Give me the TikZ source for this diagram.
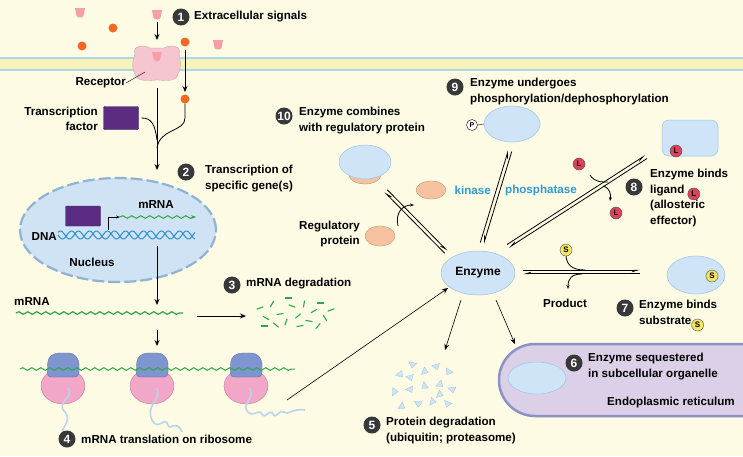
\documentclass[tikz,border=0pt]{standalone}
\usepackage{fontspec}
\setmainfont{Liberation Sans}
\usetikzlibrary{arrows.meta,decorations.pathmorphing,calc,shapes.geometric}
\definecolor{cream}{HTML}{FDFBE3}
\definecolor{memb}{HTML}{A9D8EE}
\definecolor{membY}{HTML}{F8F2B8}
\definecolor{enz}{HTML}{CFE4F7}
\definecolor{enzb}{HTML}{9CC3E3}
\definecolor{nucf}{HTML}{CFE3F4}
\definecolor{nucb}{HTML}{8FB3D3}
\definecolor{tf}{HTML}{5A2D82}
\definecolor{rna}{HTML}{2EA84A}
\definecolor{dna}{HTML}{2C8FD0}
\definecolor{salm}{HTML}{F6C2A0}
\definecolor{orng}{HTML}{EE6A22}
\definecolor{pinkr}{HTML}{F6C6D0}
\definecolor{ribo}{HTML}{F2A7C8}
\definecolor{ribot}{HTML}{7F95CF}
\definecolor{lig}{HTML}{E0405A}
\definecolor{subs}{HTML}{F6E560}
\definecolor{erf}{HTML}{DCD0E8}
\definecolor{erb}{HTML}{8E90C8}
\definecolor{kin}{HTML}{2F9AD6}
\tikzset{
 txt/.style={font=\bfseries\fontsize{11.6}{15.5}\selectfont,inner sep=0pt,align=left},
 num/.style={circle,fill=black!78,text=white,minimum size=17pt,inner sep=0pt,font=\bfseries\fontsize{12}{12}\selectfont},
 arr/.style={-{Stealth[length=6pt,width=5pt]},thick},
 enzyme/.style={ellipse,fill=enz,draw=enzb,line width=0.5pt},
 wavy/.style={decorate,decoration={snake,amplitude=1.3pt,segment length=9pt},rna,line width=1.2pt},
 hps/.style={-{Stealth[harpoon,swap,length=7pt,width=4pt]},thick},
 dot/.style={circle,fill=orng,minimum size=9pt,inner sep=0pt},
 cup/.style={fill=pinkr!80!red,draw=none},
 lg/.style={circle,fill=lig,draw=black!70,minimum size=12pt,inner sep=0pt,font=\bfseries\fontsize{8}{8}\selectfont},
 sb/.style={circle,fill=subs,draw=black!70,minimum size=12pt,inner sep=0pt,font=\bfseries\fontsize{8}{8}\selectfont},
}
\newcommand{\eqarr}[2]{%
 \draw[hps] ($(#1)!1.8pt!90:(#2)$) -- ($(#2)!1.8pt!-90:(#1)$);
 \draw[hps] ($(#2)!1.8pt!90:(#1)$) -- ($(#1)!1.8pt!-90:(#2)$);}
\begin{document}
\begin{tikzpicture}[x=1pt,y=-1pt]
\fill[cream] (0,0) rectangle (743,456);
\useasboundingbox (0,0) rectangle (743,456);
% membrane
\fill[membY] (0,58) rectangle (743,70);
\draw[memb,line width=1.5pt] (0,58) -- (743,58) (0,70) -- (743,70);
% signals
\foreach \x/\y [count=\i] in {80/12,157/14,218/44}{
 \fill[cup] (\x-5,\y-4) -- (\x+5,\y-4) -- (\x+3.5,\y+4) .. controls (\x+2,\y+6) and (\x-2,\y+6) .. (\x-3.5,\y+4) -- cycle;}
\node[dot] (o1) at (82,46) {};
\node[dot] (o2) at (113,28) {};
\node[dot] (o3) at (185,42) {};
\node[num] (n1) at (181,17) {1};
\node[txt,anchor=west] (t1) at (194,17) {Extracellular signals};
% receptor
\fill[pinkr,draw=pinkr!80!black,line width=0.3pt] (135,54) .. controls (132,46) and (143,44) .. (150,48) -- (164,48) .. controls (171,44) and (182,46) .. (179,54) .. controls (181,62) and (181,70) .. (178,74) .. controls (176,81) and (170,81) .. (157,80) .. controls (144,81) and (137,81) .. (135,74) .. controls (132,70) and (132,62) .. cycle;
\fill[cup] (152,52) -- (162,52) -- (160,60) .. controls (158,62) and (156,62) .. (154,60) -- cycle;
\coordinate (rc) at (145,72);
\node[txt,anchor=east] (trec) at (126,83) {Receptor};
\draw[thin] (trec.east) -- (rc);
\coordinate (s2) at (157,22);
\coordinate (s2e) at (157,40);
\draw[arr] (s2) -- (s2e);
\node[dot] (o4) at (185,99) {};
\draw[arr] (o3) ++(0,8) coordinate (o3b) -- (185,92);
% transcription factor
\node[txt,align=right,anchor=east] (ttf) at (98,119) {Transcription\\factor};
\node[fill=tf,draw=tf!70!black,rounded corners=1pt,minimum width=35pt,minimum height=23pt] (tfb) at (121,118) {};
\coordinate (rb) at (157,88);
\coordinate (nt) at (157,170);
\draw[arr] (rb) -- (nt);
\draw[thick] (tfb.east) ++(3,0) .. controls (152,118) and (155,125) .. (157,140);
\draw[thick] (o4.south) -- (185,118) .. controls (185,132) and (160,128) .. (157,148);
\node[num] (n2) at (186,172) {2};
\node[txt,anchor=north west] (t2) at (205,165) {Transcription of\\specific gene(s)};
% nucleus
\node[ellipse,fill=nucf,draw=nucb,dashed,dash pattern=on 12pt off 4pt,line width=2.2pt,minimum width=196pt,minimum height=104pt] (nuc) at (118,230) {};
\node[fill=tf,draw=tf!70!black,rounded corners=1pt,minimum width=35pt,minimum height=20pt] (tf2) at (83,216) {};
\draw[thick,-{Stealth[length=4pt]}] (108,230) -- (108,217) -- (120,217);
\draw[wavy,line width=1pt,-{Stealth[length=5pt]}] (120,217) -- (196,217);
\node[txt,anchor=center] (tm) at (156,205) {mRNA};
\draw[dna,line width=1pt,domain=0:137,samples=120] plot ({58+\x},{235+4*sin(\x*20)});
\draw[dna,line width=1pt,domain=0:137,samples=120] plot ({58+\x},{235-4*sin(\x*20+40)});
\node[txt,anchor=east] (tdna) at (57,237) {DNA};
\node[txt] (tnuc) at (92,262) {Nucleus};
% mRNA
\coordinate (nb) at (157,246);
\coordinate (m1) at (157,305);
\draw[arr] (nb) -- (m1);
\node[txt,anchor=west] (tm2) at (14,302) {mRNA};
\draw[wavy] (16,313) -- (183,313);
\coordinate (d1) at (197,316);
\coordinate (d2) at (246,316);
\draw[arr] (d1) -- (d2);
\foreach \x/\y/\a in {260/308/20,266/318/-30,272/304/60,280/314/10,286/322/70,292/306/-20,298/316/40,304/304/80,309/321/-10,314/311/30,320/303/0,325/318/-60,331/310/20,276/325/-40,300/326/10,318/326/50,264/326/0,288/298/0}
 \draw[rna,line width=1.1pt,rotate around={\a:(\x,\y)}] (\x-3.5,\y) -- (\x+3.5,\y);
\node[num] (n3) at (232,285) {3};
\node[txt,anchor=west] (t3) at (246,284) {mRNA degradation};
\coordinate (m2) at (157,330);
\coordinate (m3) at (157,346);
\draw[arr] (m2) -- (m3);
% ribosomes
\foreach \x/\tl in {63/1,152/2,246/3}{
 \fill[ribo,draw=ribo!70!black,line width=0.3pt] (\x,386) ellipse (22pt and 18pt);
 \fill[ribot,draw=ribot!70!black,line width=0.3pt,rounded corners=4pt] (\x-16,377) -- (\x-15,358) -- (\x-8,353) -- (\x+10,353) -- (\x+16,360) -- (\x+16,377) -- cycle;
}
\draw[wavy,line width=1pt] (20,369) -- (295,369);
\draw[enzb!70,line width=1.6pt] (68,388) .. controls (75,398) and (55,402) .. (65,412) .. controls (72,420) and (62,428) .. (62,433);
\draw[enzb!70,line width=1.6pt] (157,388) .. controls (162,400) and (145,405) .. (152,420) .. controls (158,432) and (165,415) .. (168,425) .. controls (170,432) and (176,418) .. (182,432);
\draw[enzb!70,line width=1.6pt] (250,388) .. controls (255,400) and (240,405) .. (248,412) .. controls (254,418) and (258,408) .. (262,414) .. controls (265,420) and (270,408) .. (273,414) .. controls (276,420) and (280,408) .. (284,412) .. controls (288,416) and (292,408) .. (305,410);
\node[num] (n4) at (67,439) {4};
\node[txt,anchor=west] (t4) at (81,439) {mRNA translation on ribosome};
% enzyme
\node[enzyme,minimum width=74pt,minimum height=44pt,font=\bfseries\fontsize{12}{14}\selectfont] (enz) at (478,273) {Enzyme};
\coordinate (rib) at (287,400);
\draw[arr,semithick] (rib) -- (448,288);
% 10
\node[num] (n10) at (284,116) {10};
\node[txt,anchor=north west] (t10) at (299,107) {Enzyme combines\\with regulatory protein};
\fill[salm,draw=salm!70!black,line width=0.3pt] (365,175) ellipse (16pt and 9pt);
\node[enzyme,minimum width=52pt,minimum height=34pt] (ec) at (365,162) {};
\node[ellipse,fill=salm,draw=salm!70!black,line width=0.3pt,minimum width=30pt,minimum height=18pt] (rp1) at (431,190) {};
\node[ellipse,fill=salm,draw=salm!70!black,line width=0.3pt,minimum width=30pt,minimum height=20pt] (rp2) at (380,236) {};
\node[txt,align=right,anchor=east] (trp) at (360,234) {Regulatory\\protein};
\coordinate (a10) at (386,191);
\coordinate (b10) at (446,252);
\eqarr{a10}{b10}
\draw[thick,-{Stealth[length=4pt]}] (398,226) .. controls (395,212) and (403,205) .. (414,205);
% 9
\node[num] (n9) at (455,87) {9};
\node[txt,anchor=north west] (t9) at (470,78) {Enzyme undergoes\\phosphorylation/dephosphorylation};
\node[enzyme,minimum width=56pt,minimum height=36pt] (ep) at (512,124) {};
\node[circle,draw=black,fill=white,minimum size=11pt,inner sep=0pt,font=\bfseries\fontsize{7}{7}\selectfont] (pp) at (472,125) {P};
\draw[thin] (pp.east) -- (ep.west);
\coordinate (a9) at (510,151);
\coordinate (b9) at (482,243);
\eqarr{a9}{b9}
\node[txt,text=kin,anchor=east] (tk) at (491,190) {kinase};
\node[txt,text=kin,anchor=west] (tp) at (505,190) {phosphatase};
% 8
\node[rectangle,rounded corners=7pt,fill=enz,draw=enzb,line width=0.5pt,minimum width=56pt,minimum height=36pt] (el) at (690,138) {};
\node[lg] (l1) at (676,151) {L};
\node[lg] (l2) at (579,164) {L};
\node[lg] (l3) at (616,213) {L};
\coordinate (a8) at (508,246);
\coordinate (b8) at (646,157);
\eqarr{a8}{b8}
\draw[thick] (590,175) .. controls (595,183) and (603,182) .. (608,182);
\draw[thick,-{Stealth[length=4pt]}] (603,186) .. controls (610,188) and (611,194) .. (610,201);
\node[num] (n8) at (634,187) {8};
\node[txt,anchor=north west] (t8) at (650,169) {Enzyme binds\\ligand \tikz[baseline=-3.5pt]\node[lg]{L};\\(allosteric\\effector)};
% 7
\node[sb] (s1) at (566,250) {S};
\coordinate (a7) at (523,272);
\coordinate (b7) at (640,272);
\draw[hps] ($(a7)+(0,-1.8)$) -- ($(b7)+(0,-1.8)$);
\draw[hps] ($(b7)+(0,1.8)$) -- ($(a7)+(0,1.8)$);
\draw[thick] (s1.south) .. controls (567,265) and (572,270) .. (585,270);
\draw[thick,-{Stealth[length=4pt]}] (582,274) .. controls (572,274) and (568,278) .. (568,289);
\node[txt] (tpr) at (565,303) {Product};
\node[enzyme,minimum width=58pt,minimum height=38pt] (es) at (696,275) {};
\node[sb] (s2n) at (712,276) {S};
\node[num] (n7) at (625,308) {7};
\node[txt,anchor=north west] (t7) at (639,300) {Enzyme binds\\substrate\tikz[baseline=-3.5pt]\node[sb]{S};};
% 5
\coordinate (e5a) at (461,300);
\coordinate (e5b) at (445,350);
\draw[arr,semithick] (e5a) -- (e5b);
\foreach \x/\y/\a in {400/375/30,412/365/-20,425/372/60,436/367/10,448/372/-40,395/392/80,410/390/20,424/386/-60,440/385/40,452/390/0,402/407/50,418/404/-10,433/402/70,447/404/-30,410/378/10,440/395/60}
 \fill[enz,draw=enzb,line width=0.3pt,rotate around={\a:(\x,\y)}] (\x-4,\y-2) -- (\x+4,\y-3) -- (\x+1,\y+3) -- cycle;
\node[num] (n5) at (372,425) {5};
\node[txt,anchor=north west] (t5) at (386,417) {Protein degradation\\(ubiquitin; proteasome)};
% 6 ER
\coordinate (e6a) at (496,300);
\coordinate (e6b) at (515,344);
\draw[arr,semithick] (e6a) -- (e6b);
\fill[erf] (745,344) -- (535,344) arc (270:90:36) -- (745,416) -- cycle;
\draw[erb,line width=2.5pt] (745,344) -- (535,344) arc (270:90:36) -- (745,416);
\node[enzyme,minimum width=58pt,minimum height=32pt] (eer) at (537,378) {};
\node[num] (n6) at (574,363) {6};
\node[txt,anchor=north west] (t6) at (588,353) {Enzyme sequestered\\in subcellular organelle};
\node[txt,anchor=east] (ter) at (735,402) {Endoplasmic reticulum};
\end{tikzpicture}
\end{document}
